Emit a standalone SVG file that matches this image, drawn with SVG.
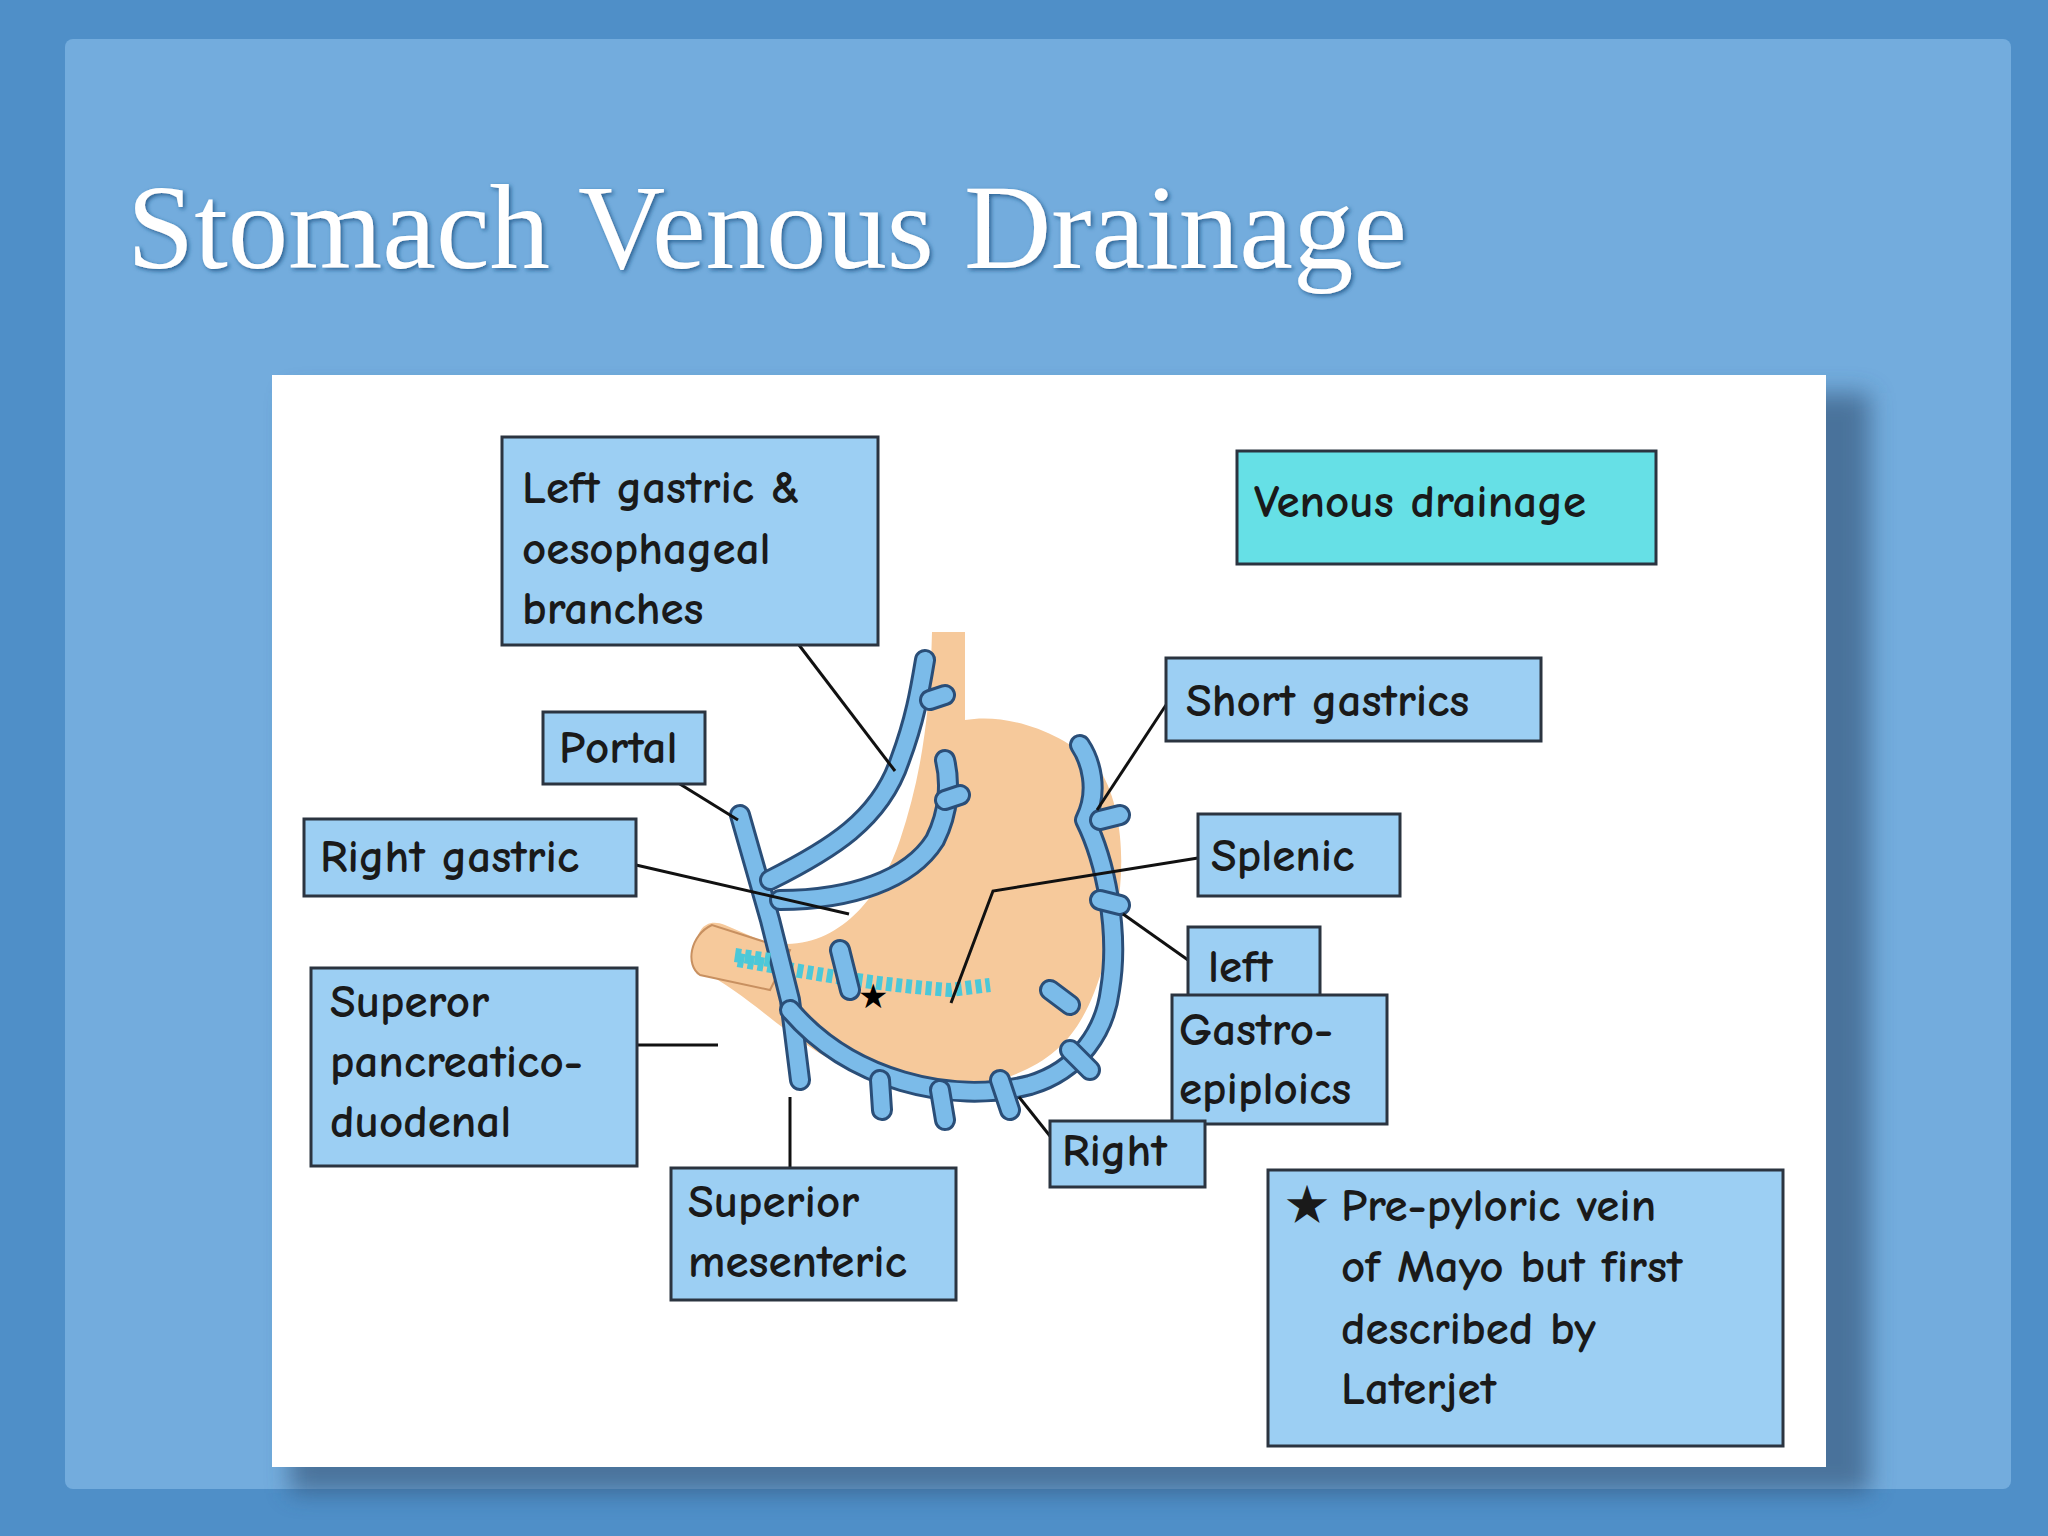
<svg xmlns="http://www.w3.org/2000/svg" width="2048" height="1536" viewBox="0 0 2048 1536">
<style>
.box{fill:#9ccff3;stroke:#2b3440;stroke-width:3}
.t{font-family:"Comic Neue","Liberation Sans",sans-serif;font-size:47px;font-weight:bold;fill:#1a1a1a}
.c{stroke:#111;stroke-width:3;fill:none}
.v{fill:none;stroke:#2a4e78;stroke-width:22;stroke-linecap:round;stroke-linejoin:round}
.vi{fill:none;stroke:#7bbbe9;stroke-width:16;stroke-linecap:round;stroke-linejoin:round}
</style>
<defs>
<filter id="sh" x="-5%" y="-5%" width="115%" height="115%"><feGaussianBlur stdDeviation="12"/></filter>
<filter id="ts"><feDropShadow dx="2" dy="2" stdDeviation="2" flood-color="#1d4f80" flood-opacity="0.8"/></filter>
</defs>
<rect width="2048" height="1536" fill="#4f8fc8"/>
<rect x="65" y="39" width="1946" height="1450" fill="#73acdd" rx="8"/>
<text x="127" y="268" font-family="Liberation Serif,serif" font-size="120" fill="#fff" filter="url(#ts)" textLength="1280" lengthAdjust="spacingAndGlyphs">Stomach Venous Drainage</text>
<rect x="290" y="393" width="1580" height="1100" fill="#2d4e70" opacity="0.6" filter="url(#sh)"/>
<rect x="272" y="375" width="1554" height="1092" fill="#fff"/>
<g id="anatomy">
<path d="M932 632 L965 632 L965 720 C1010 712 1070 735 1100 770 C1130 820 1125 900 1105 960 C1085 1030 1060 1060 1000 1080 C930 1095 860 1085 800 1040 C770 1020 740 990 700 970 C690 940 700 915 725 925 L760 940 C830 960 880 900 900 840 C920 780 930 720 932 632 Z" fill="#f6c99b"/>
<path d="M712 925 C690 935 685 965 700 975 L770 990 L790 950 Z" fill="#f6c99b" stroke="#c89060" stroke-width="2"/>
<path d="M738 960 C820 975 880 985 950 990 L990 985" fill="none" stroke="#4cc8d8" stroke-width="14" stroke-dasharray="6 4"/>
<path class="v" d="M740 815 L770 920 L790 1000 L800 1080"/>
<path class="vi" d="M740 815 L770 920 L790 1000 L800 1080"/>
<path class="v" d="M770 880 C830 850 880 820 900 760 C915 720 920 690 925 660"/>
<path class="vi" d="M770 880 C830 850 880 820 900 760 C915 720 920 690 925 660"/>
<path class="v" d="M780 900 C850 900 910 880 935 840 C950 810 950 780 945 760"/>
<path class="vi" d="M780 900 C850 900 910 880 935 840 C950 810 950 780 945 760"/>
<path class="v" d="M790 1010 C850 1080 950 1105 1030 1085 C1080 1070 1105 1030 1110 990 C1120 930 1105 860 1085 820 C1100 790 1090 760 1080 745"/>
<path class="vi" d="M790 1010 C850 1080 950 1105 1030 1085 C1080 1070 1105 1030 1110 990 C1120 930 1105 860 1085 820 C1100 790 1090 760 1080 745"/>
<path class="v" d="M840 950 L850 990 M880 1080 L882 1110 M940 1090 L945 1120 M1000 1080 L1010 1110 M1070 1050 L1090 1070 M1050 990 L1070 1005 M1100 900 L1120 905 M1100 820 L1120 815 M930 700 L945 695 M945 800 L960 795"/>
<path class="vi" d="M840 950 L850 990 M880 1080 L882 1110 M940 1090 L945 1120 M1000 1080 L1010 1110 M1070 1050 L1090 1070 M1050 990 L1070 1005 M1100 900 L1120 905 M1100 820 L1120 815 M930 700 L945 695 M945 800 L960 795"/>
<path d="M735 955 L770 960" stroke="#4cc8d8" stroke-width="14" stroke-dasharray="6 4"/>
<text x="858" y="1008" font-family="DejaVu Sans,sans-serif" font-size="34" fill="#000">★</text>
</g>
<g id="connectors">
<path class="c" d="M799 645 L895 771"/>
<path class="c" d="M675 781 L738 820"/>
<path class="c" d="M636 865 L849 914"/>
<path class="c" d="M1166 705 L1097 810"/>
<path class="c" d="M1198 858 L993 891 L951 1003"/>
<path class="c" d="M1188 960 L1123 914"/>
<path class="c" d="M1050 1136 L1019 1097"/>
<path class="c" d="M637 1045 L718 1045"/>
<path class="c" d="M790 1168 L790 1097"/>
</g>
<g id="n-leftgastric"><rect class="box" x="502" y="437" width="376" height="208"/><text class="t" x="522" y="503">Left gastric &amp;</text><text class="t" x="522" y="564">oesophageal</text><text class="t" x="522" y="624">branches</text></g>
<g id="n-venous"><rect x="1237" y="451" width="419" height="113" fill="#66e0e6" stroke="#2b3440" stroke-width="3"/><text class="t" x="1254" y="517">Venous drainage</text></g>
<g id="n-short"><rect class="box" x="1166" y="658" width="375" height="83"/><text class="t" x="1186" y="716">Short gastrics</text></g>
<g id="n-portal"><rect class="box" x="543" y="712" width="162" height="72"/><text class="t" x="559" y="763">Portal</text></g>
<g id="n-rightgastric"><rect class="box" x="304" y="819" width="332" height="77"/><text class="t" x="320" y="872">Right gastric</text></g>
<g id="n-splenic"><rect class="box" x="1198" y="814" width="202" height="82"/><text class="t" x="1211" y="871">Splenic</text></g>
<g id="n-left"><rect class="box" x="1188" y="927" width="132" height="72"/><text class="t" x="1208" y="982">left</text></g>
<g id="n-gastro"><rect class="box" x="1172" y="995" width="215" height="129"/><text class="t" x="1179" y="1045">Gastro-</text><text class="t" x="1179" y="1104">epiploics</text></g>
<g id="n-superor"><rect class="box" x="311" y="968" width="326" height="198"/><text class="t" x="330" y="1017">Superor</text><text class="t" x="330" y="1077">pancreatico-</text><text class="t" x="330" y="1137">duodenal</text></g>
<g id="n-right"><rect class="box" x="1050" y="1121" width="155" height="66"/><text class="t" x="1062" y="1166">Right</text></g>
<g id="n-supmes"><rect class="box" x="671" y="1168" width="285" height="132"/><text class="t" x="688" y="1217">Superior</text><text class="t" x="688" y="1277">mesenteric</text></g>
<g id="n-prepyloric"><rect class="box" x="1268" y="1170" width="515" height="276"/><text class="t" x="1286" y="1221">★</text><text class="t" x="1341" y="1221">Pre-pyloric vein</text><text class="t" x="1341" y="1282">of Mayo but first</text><text class="t" x="1341" y="1344">described by</text><text class="t" x="1341" y="1404">Laterjet</text></g>
</svg>
